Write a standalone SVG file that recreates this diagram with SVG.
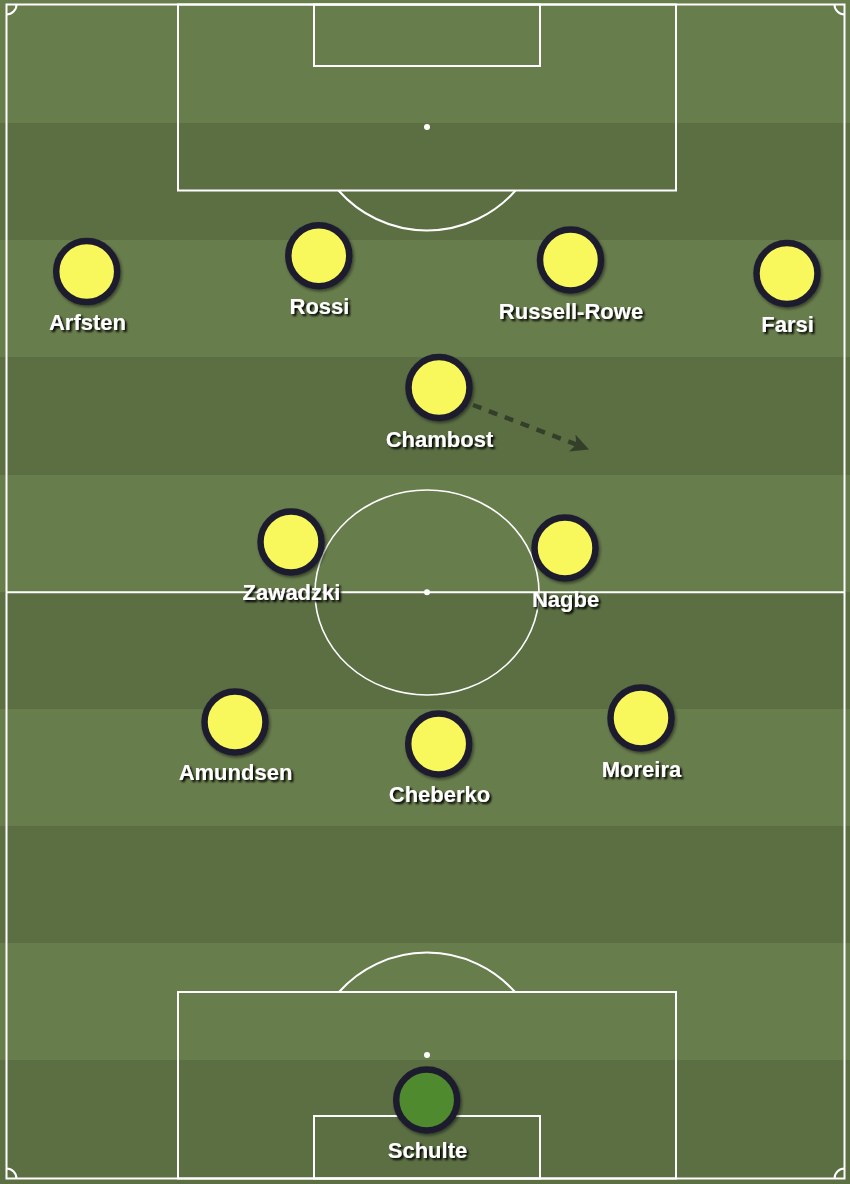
<svg xmlns="http://www.w3.org/2000/svg" width="850" height="1184" viewBox="0 0 850 1184">
<defs>
<style>
.light{fill:#687d4c}
.dark{fill:#5b6f43}
.line{fill:none;stroke:#ffffff;stroke-width:2}
.thin{fill:none;stroke:#ffffff;stroke-width:1.6}
.spot{fill:#ffffff}
.player{fill:#f8f75c;stroke:#1d1c2e;stroke-width:6.5;filter:url(#sh)}
.keeper{fill:#4f8a2f;stroke:#1d1c2e;stroke-width:6.5;filter:url(#sh)}
.lbl{font-family:"Liberation Sans",Arial,sans-serif;font-weight:bold;font-size:22px;fill:#ffffff;text-anchor:middle;filter:url(#tsh)}
.run{fill:none;stroke:#343f29;stroke-width:4.5;stroke-dasharray:9 8}
</style>
<filter id="sh" x="-30%" y="-30%" width="160%" height="160%">
<feDropShadow dx="1.5" dy="2" stdDeviation="1.5" flood-color="#000" flood-opacity="0.45"/>
</filter>
<filter id="tsh" x="-20%" y="-30%" width="140%" height="160%">
<feDropShadow dx="2" dy="2" stdDeviation="0.9" flood-color="#000" flood-opacity="1"/>
</filter>
<marker id="ah" viewBox="0 0 10 10" refX="7" refY="5" markerWidth="4" markerHeight="4" orient="auto" markerUnits="strokeWidth">
<path d="M0,0 L10,5 L0,10 L2.5,5 Z" fill="#343f29"/>
</marker>
</defs>

<g id="pitch" shape-rendering="crispEdges">
<rect class="light" x="0" y="0" width="850" height="1184"/>
<rect class="dark" x="0" y="122.5" width="850" height="117.5"/>
<rect class="dark" x="0" y="357" width="850" height="117.5"/>
<rect class="dark" x="0" y="592" width="850" height="116.5"/>
<rect class="dark" x="0" y="826" width="850" height="117"/>
<rect class="dark" x="0" y="1060" width="850" height="124"/>
</g>
<g id="markings">
<rect class="line" x="6.5" y="4.5" width="838" height="1174"/>
<line class="line" x1="6.5" y1="592.2" x2="844.5" y2="592.2"/>
<ellipse class="thin" cx="427" cy="592.5" rx="112" ry="102.5"/>
<circle class="spot" cx="427" cy="592.3" r="3"/>

<rect class="line" x="178" y="4.5" width="498" height="186"/>
<rect class="line" x="314" y="4.5" width="226" height="61.5"/>
<circle class="spot" cx="427" cy="127" r="3"/>
<path class="line" d="M338.5,190.5 A118,118 0 0 0 515.5,190.5"/>

<rect class="line" x="178" y="992" width="498" height="186.5"/>
<rect class="line" x="314" y="1116" width="226" height="62.5"/>
<circle class="spot" cx="427" cy="1055" r="3"/>
<path class="line" d="M339,992 A118,118 0 0 1 515,992"/>

<path class="line" d="M6.5,14.5 A10,10 0 0 0 16.5,4.5"/>
<path class="line" d="M834.5,4.5 A10,10 0 0 0 844.5,14.5"/>
<path class="line" d="M6.5,1168.5 A10,10 0 0 1 16.5,1178.5"/>
<path class="line" d="M834.5,1178.5 A10,10 0 0 1 844.5,1168.5"/>
</g>

<g id="connectors">
<path class="run" d="M473,405 L584,447.5" marker-end="url(#ah)"/>
</g>

<g id="arfsten"><circle class="player" cx="86.7" cy="271.6" r="30.5"/><text class="lbl" x="87.5" y="330">Arfsten</text></g>
<g id="rossi"><circle class="player" cx="318.8" cy="255.7" r="30.5"/><text class="lbl" x="319.5" y="314.3">Rossi</text></g>
<g id="russell-rowe"><circle class="player" cx="570.5" cy="260" r="30.5"/><text class="lbl" x="571" y="319">Russell-Rowe</text></g>
<g id="farsi"><circle class="player" cx="787" cy="273.5" r="30.5"/><text class="lbl" x="787.5" y="332">Farsi</text></g>
<g id="chambost"><circle class="player" cx="439" cy="387.5" r="30.5"/><text class="lbl" x="439.5" y="446.5">Chambost</text></g>
<g id="zawadzki"><circle class="player" cx="291" cy="542" r="30.5"/><text class="lbl" x="291.5" y="600">Zawadzki</text></g>
<g id="nagbe"><circle class="player" cx="565" cy="548" r="30.5"/><text class="lbl" x="565.5" y="606.5">Nagbe</text></g>
<g id="amundsen"><circle class="player" cx="235" cy="722" r="30.5"/><text class="lbl" x="235.5" y="780">Amundsen</text></g>
<g id="cheberko"><circle class="player" cx="438.7" cy="744" r="30.5"/><text class="lbl" x="439.5" y="802">Cheberko</text></g>
<g id="moreira"><circle class="player" cx="641" cy="718" r="30.5"/><text class="lbl" x="641.5" y="776.5">Moreira</text></g>
<g id="schulte"><circle class="keeper" cx="426.7" cy="1100" r="30.5"/><text class="lbl" x="427.5" y="1158.3">Schulte</text></g>
</svg>
